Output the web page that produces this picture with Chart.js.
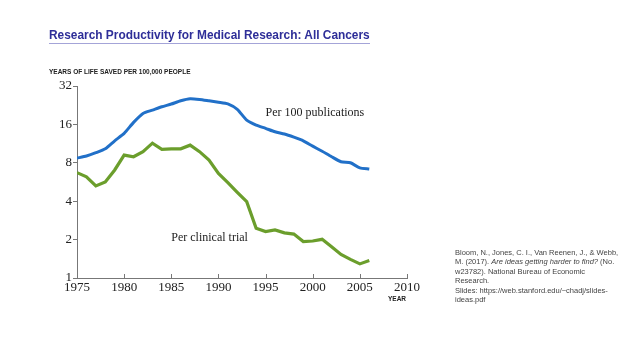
<!DOCTYPE html>
<html>
<head>
<meta charset="utf-8">
<script src="https://cdn.jsdelivr.net/npm/chart.js@4.4.1/dist/chart.umd.min.js"></script>
<style>
  body { margin: 0; background: #fff; }
  #wrap { position: relative; width: 638px; height: 359px; }
  #lineChart { position: absolute; left: 0; top: 0; }
  .title {
    position: absolute; left: 49px; top: 28px;
    font: bold 11.9px "Liberation Sans", Arial, sans-serif; color: #2e2e98;
    border-bottom: 1px solid #a4a4d8; padding-bottom: 1px; white-space: nowrap;
  }
  .ytitle, .xtitle {
    position: absolute; font: bold 6.5px "Liberation Sans", Arial, sans-serif; color: #222; white-space: nowrap;
  }
  .ytitle { left: 49px; top: 68px; }
  .xtitle { left: 388px; top: 295px; }
  .cite {
    position: absolute; left: 455px; top: 248px;
    font: 7.5px "Liberation Sans", Arial, sans-serif; color: #444; line-height: 9.4px; white-space: nowrap;
  }
</style>
</head>
<body>
<div id="wrap">
  <canvas id="lineChart" width="638" height="359"></canvas>
  <div class="title">Research Productivity for Medical Research: All Cancers</div>
  <div class="ytitle">YEARS OF LIFE SAVED PER 100,000 PEOPLE</div>
  <div class="xtitle">YEAR</div>
  <div class="cite">
    Bloom, N., Jones, C. I., Van Reenen, J., &amp; Webb,<br>
    M. (2017). <i>Are ideas getting harder to find?</i> (No.<br>
    w23782). National Bureau of Economic<br>
    Research.<br>
    Slides: https://web.stanford.edu/~chadj/slides-<br>
    ideas.pdf
  </div>
</div>
<script>
var years = [1975, 1976, 1977, 1978, 1979, 1980, 1981, 1982, 1983, 1984, 1985, 1986, 1987, 1988, 1989, 1990,
             1991, 1992, 1993, 1994, 1995, 1996, 1997, 1998, 1999, 2000, 2001, 2002, 2003, 2004, 2005, 2006];
var perPublications = [8.7, 9.05, 9.6, 10.3, 11.9, 13.6, 16.6, 19.5, 20.7, 22, 23.1, 24.5, 25.4, 25.1, 24.5, 23.9,
                       23.2, 21, 17.3, 15.8, 14.9, 14.0, 13.45, 12.7, 11.9, 10.8, 9.85, 8.93, 8.16, 8.0, 7.3, 7.15];
var perTrial = [6.7, 6.22, 5.27, 5.66, 7.03, 9.2, 8.93, 9.78, 11.4, 10.2, 10.3, 10.3, 11.0, 9.78, 8.4, 6.6,
                5.6, 4.7, 3.97, 2.45, 2.31, 2.38, 2.26, 2.21, 1.93, 1.95, 2.01, 1.76, 1.53, 1.40, 1.29, 1.37];
var yTicks = [1, 2, 4, 8, 16, 32];
var xTicks = [1975, 1980, 1985, 1990, 1995, 2000, 2005, 2010];

function points(vals) {
    return years.map(function (y, i) { return { x: y, y: vals[i] }; });
}

var serif = { family: '"Liberation Serif", "Times New Roman", serif', size: 13 };

// label text and inward x ticks
var extras = {
    id: 'extras',
    afterDraw: function (chart) {
        var c = chart.ctx, xs = chart.scales.x, ys = chart.scales.y;
        c.save();
        c.strokeStyle = '#777';
        c.lineWidth = 1;
        xTicks.forEach(function (t) {
            var px = Math.round(xs.getPixelForValue(t)) + 0.5;
            c.beginPath();
            c.moveTo(px, ys.bottom);
            c.lineTo(px, ys.bottom - 4);
            c.stroke();
        });
        c.fillStyle = '#222';
        c.font = '12px "Liberation Serif", "Times New Roman", serif';
        c.textBaseline = 'middle';
        c.fillText('Per 100 publications', xs.getPixelForValue(1995), ys.getPixelForValue(19.6));
        c.fillText('Per clinical trial', xs.getPixelForValue(1985), ys.getPixelForValue(2.06));
        c.restore();
    }
};

var ctx = document.getElementById('lineChart').getContext('2d');

var myChart = new Chart(ctx, {
    type: 'line',
    data: {
        datasets: [{
            label: 'Per 100 publications',
            data: points(perPublications),
            borderColor: '#2170c8',
            borderWidth: 3,
            pointRadius: 0,
            tension: 0.2
        }, {
            label: 'Per clinical trial',
            data: points(perTrial),
            borderColor: '#6b9e2c',
            borderWidth: 3.2,
            pointRadius: 0,
            tension: 0
        }]
    },
    options: {
        responsive: false,
        animation: false,
        layout: { padding: { left: 47, right: 231, top: 86, bottom: 61 } },
        plugins: { legend: { display: false }, tooltip: { enabled: false } },
        scales: {
            x: {
                type: 'linear',
                min: 1975,
                max: 2010,
                afterBuildTicks: function (s) { s.ticks = xTicks.map(function (v) { return { value: v }; }); },
                afterFit: function (s) { s.height = 20; },
                grid: { drawOnChartArea: false, drawTicks: false },
                border: { color: '#777' },
                ticks: { font: serif, color: '#222', padding: 2, maxRotation: 0, callback: function (v) { return String(v); } }
            },
            y: {
                type: 'logarithmic',
                min: 1,
                max: 32,
                afterBuildTicks: function (s) { s.ticks = yTicks.map(function (v) { return { value: v }; }); },
                afterFit: function (s) { s.width = 30; },
                grid: { drawOnChartArea: false, tickLength: 4, color: '#777' },
                border: { color: '#777' },
                ticks: { font: serif, color: '#222', padding: 1, callback: function (v) { return String(v); } }
            }
        }
    },
    plugins: [extras]
});
</script>
</body>
</html>
